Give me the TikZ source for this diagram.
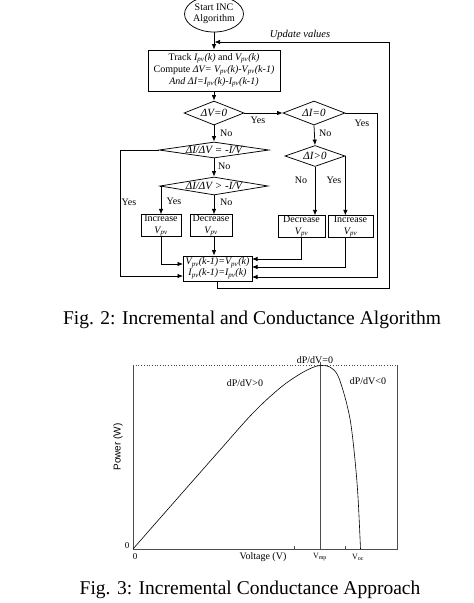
\documentclass[tikz,border=0pt]{standalone}
\usepackage{fontspec}
\setmainfont{Liberation Serif}
\setsansfont{Liberation Sans}
\usetikzlibrary{arrows.meta,shapes.geometric}
\newcommand{\pv}{\textsubscript{pv}}
\begin{document}
\begin{tikzpicture}[x=1pt,y=-1pt,
  flow/.style={draw, line width=0.75pt, inner sep=0pt, align=center, font=\fontsize{10}{12}\selectfont},
  box/.style={flow, rectangle},
  dia/.style={draw, diamond, line width=0.75pt, inner sep=0pt},
  dlab/.style={font=\fontsize{11}{12}\selectfont\itshape, inner sep=0pt},
  arr/.style={-{Latex[length=5.5pt,width=4.5pt]}, line width=0.75pt},
  lbl/.style={font=\fontsize{10}{11}\selectfont, inner sep=0pt},
  axisline/.style={draw=black!70, line width=0.8pt},
  figcap/.style={font=\fontsize{19.5}{22}\selectfont, inner sep=0pt},
  ]
\useasboundingbox (0,0) rectangle (474,603);

% ---------- flowchart ----------
\node[flow, ellipse, minimum width=58pt, minimum height=36pt] (start) at (214,14) {Start INC\\[-1pt]Algorithm};
\node[box, minimum width=132pt, minimum height=41pt] (track) at (214,70.5)
  {Track \textit{I\pv(k)} and \textit{V\pv(k)}\\
   Compute \textit{ΔV= V\pv(k)-V\pv(k-1)}\\
   \textit{And ΔI=I\pv(k)-I\pv(k-1)}};

\node[dia, minimum width=60pt, minimum height=24pt] (d1) at (214,113) {};
\node[dlab] (d1t) at (d1) {ΔV=0};
\node[dia, minimum width=62pt, minimum height=24pt] (dI0) at (314,113) {};
\node[dlab] (dI0t) at (dI0) {ΔI=0};
\node[dia, minimum width=110pt, minimum height=16pt] (d2) at (214,150) {};
\node[dlab] (d2t) at (d2) {ΔI/ΔV = -I/V};
\node[dia, minimum width=108pt, minimum height=18pt] (d3) at (214,186) {};
\node[dlab] (d3t) at (d3) {ΔI/ΔV > -I/V};
\node[dia, minimum width=60pt, minimum height=21pt] (dI) at (315,156) {};
\node[dlab] (dIt) at (dI) {ΔI>0};

\node[box, minimum width=40pt, minimum height=21pt] (incL) at (161,225.5) {Increase\\\textit{V\pv}};
\node[box, minimum width=42pt, minimum height=21pt] (decL) at (211,225.5) {Decrease\\\textit{V\pv}};
\node[box, minimum width=47pt, minimum height=21pt] (decR) at (301.5,226.5) {Decrease\\\textit{V\pv}};
\node[box, minimum width=45pt, minimum height=21pt] (incR) at (350.5,226.5) {Increase\\\textit{V\pv}};
\node[box, minimum width=69pt, minimum height=25pt, font=\fontsize{10}{11}\selectfont\itshape] (upd) at (217.5,268.5)
  {V\pv(k-1)=V\pv(k)\\I\pv(k-1)=I\pv(k)};

\coordinate (uL1) at (183,264);
\coordinate (uL2) at (183,276);
\coordinate (uR1) at (252,259);
\coordinate (uR2) at (252,267);
\coordinate (uR3) at (252,277);
\coordinate (lx) at (120,0);
\coordinate (rx) at (377,0);
\coordinate (fbR) at (389,288);
\coordinate (fbT) at (214.5,42);

\draw[arr] (start) -- (track);
\draw[arr] (track) -- (d1);
\draw[arr] (d1.east) -- (dI0.west);
\draw[arr] (d1.south) -- (d2.north);
\draw[arr] (d2.south) -- (d3.north);
\draw[arr] (d2.west) -- (d2.west -| lx) -- (lx |- uL2) -- (uL2);
\draw[arr] (d3.west) -| (incL.north);
\draw[arr] (d3.south) -- (d3.south |- decL.north);
\draw[arr] (incL.south) |- (uL1);
\draw[arr] (d3.south |- decL.south) -- (d3.south |- upd.north);
\draw[arr] (dI0.south) -- (dI.north);
\draw[arr] (dI0.east) -- (dI0.east -| rx) -- (rx |- uR3) -- (uR3);
\draw[arr] (dI.south) -- (dI.south |- decR.north);
\draw[arr] (dI.east) -- (dI.east |- incR.north);
\draw[arr] (decR.south) |- (uR1);
\draw[arr] (dI.east |- incR.south) |- (uR2);
\draw[arr] (upd.south) -- (upd.south |- fbR) -- (fbR) -- (fbR |- fbT) -- (fbT);

\node[lbl, font=\fontsize{10.5}{11}\selectfont\itshape] (updl) at (300,35) {Update values};
\node[lbl] (y1) at (258,120) {Yes};
\node[lbl, anchor=west] (n1) at (220,133) {No};
\node[lbl, anchor=west] (n2) at (218,166) {No};
\node[lbl] (y2) at (129,202) {Yes};
\node[lbl] (y3) at (174,201) {Yes};
\node[lbl, anchor=west] (n3) at (220,202) {No};
\node[lbl, anchor=west] (n4) at (319,133) {No};
\node[lbl] (y4) at (362,123) {Yes};
\node[lbl] (n5) at (301,180) {No};
\node[lbl] (y5) at (334,180) {Yes};

\node[figcap] (cap2) at (252,320) {Fig. 2: Incremental and Conductance Algorithm};

% ---------- P-V plot ----------
\draw[axisline] (133,365) -- (133,549) -- (397,549) -- (397,365);
\draw[black!70, dotted, line width=0.7pt] (133,365) -- (397,365);
\draw[axisline] (320,362) -- (320,549);
\draw[black!70, line width=0.5pt] (294,549) -- (294,546);
\draw[black!70, line width=0.5pt] (345,549) -- (345,546);
\draw[black, line width=0.6pt] plot[smooth, tension=0.6] coordinates {
  (133,549) (183,492) (220,450) (253,413) (280,388) (300,374) (314,367)
  (322,365.5) (330,367) (337,374) (342,387) (347,405) (351,425) (355,460)
  (358,497) (360.5,549)};

\node[lbl, font=\fontsize{10}{11}\selectfont] (dp0) at (315,360) {dP/dV=0};
\node[lbl] (dpp) at (245,383) {dP/dV>0};
\node[lbl] (dpn) at (368,381) {dP/dV<0};
\node[lbl, font=\sffamily\fontsize{10}{11}\selectfont, rotate=90] (ylab) at (118,447) {Power (W)};
\node[lbl] (xlab) at (263,557) {Voltage (V)};
\node[lbl, font=\fontsize{8}{9}\selectfont] (vmp) at (320,557) {V\textsubscript{mp}};
\node[lbl, font=\fontsize{8}{9}\selectfont] (voc) at (358,557) {V\textsubscript{oc}};
\node[lbl, font=\fontsize{9}{10}\selectfont] (z1) at (127,546) {0};
\node[lbl, font=\fontsize{9}{10}\selectfont] (z2) at (135,557) {0};

\node[figcap] (cap3) at (250,590) {Fig. 3: Incremental Conductance Approach};
\end{tikzpicture}
\end{document}
